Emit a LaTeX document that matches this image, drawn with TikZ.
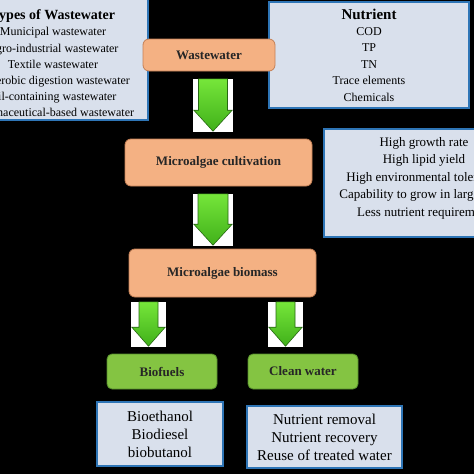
\documentclass[tikz,border=0pt]{standalone}
\usepackage{fontspec}
\setmainfont{Liberation Serif}
\usetikzlibrary{calc}
\definecolor{orangefill}{RGB}{244,177,131}
\definecolor{orangeline}{RGB}{196,128,86}
\definecolor{infofill}{RGB}{217,224,236}
\definecolor{infoline}{RGB}{46,117,182}
\definecolor{greenfill}{RGB}{132,196,66}
\definecolor{greenline}{RGB}{84,140,44}
\definecolor{arrowtop}{RGB}{118,230,58}
\definecolor{arrowbot}{RGB}{64,176,26}
\definecolor{arrowedge}{RGB}{38,104,18}
\newcommand{\Size}[2]{\fontsize{#1}{#2}\selectfont}
% green block arrow inside a white node: node, shaft half width, head length
\newcommand{\GreenArrow}[3]{%
  \draw[draw=arrowedge, line width=0.6pt, top color=arrowtop, bottom color=arrowbot]
    ($(#1.north)+(-#2,0)$) -- ($(#1.south)+(-#2,-#3)$) -- ($(#1.south west)+(1,-#3)$)
    -- ($(#1.south)+(0,-1)$) -- ($(#1.south east)+(-1,-#3)$) -- ($(#1.south)+(#2,-#3)$)
    -- ($(#1.north)+(#2,0)$) -- cycle;
}
\tikzset{
    procbox/.style={draw=orangeline, fill=orangefill, line width=0.8pt, rounded corners=6pt,
      font=\bfseries\Size{13}{15}, text=black!85, inner sep=0pt},
    prodbox/.style={draw=greenline, fill=greenfill, line width=0.8pt, rounded corners=5pt,
      font=\bfseries\Size{13}{15}, text=black!85, inner sep=0pt,
      minimum width=110, minimum height=35},
    infobox/.style={draw=infoline, fill=infofill, line width=1.2pt, inner sep=0pt, align=center},
    arrowbg/.style={fill=white, inner sep=0pt},
}
\begin{document}
\begin{tikzpicture}[x=1pt, y=-1pt]
    \useasboundingbox (0,0) rectangle (474,474);
    \clip (0,0) rectangle (474,474);
    \fill[black] (0,0) rectangle (474,474);

    % side boxes
    \node[infobox, minimum width=192, minimum height=124] (types) at (52,58) {};
    \node[align=center, font=\Size{12}{16.2}] (typestext) at (53,63.5)
      {{\bfseries\Size{14}{16.2}Types of Wastewater}\\ Municipal wastewater\\
       Agro-industrial wastewater\\ Textile wastewater\\ Anaerobic digestion wastewater\\
       Oil-containing wastewater\\ Pharmaceutical-based wastewater};

    \node[infobox, minimum width=200, minimum height=106, font=\Size{12}{16.4}] (nutrient) at (369,55)
      {{\bfseries\Size{15}{16.4}Nutrient}\\ COD\\ TP\\ TN\\ Trace elements\\ Chemicals};

    \node[infobox, minimum width=200, minimum height=108] (traits) at (424,183) {};
    \node[align=center, font=\Size{13}{17.5}] (traitstext) at (424,178)
      {High growth rate\\ High lipid yield\\ High environmental tolerance\\
       Capability to grow in large scale\\ Less nutrient requirement};

    % main column
    \node[procbox, minimum width=132, minimum height=32] (waste) at (209,55) {Wastewater};
    \node[procbox, minimum width=187, minimum height=47] (cult) at (218.5,162.5) {Microalgae cultivation};
    \node[procbox, minimum width=187, minimum height=48] (biomass) at (222.5,273) {Microalgae biomass};

    \node[prodbox] (biofuels) at (162,371.5) {Biofuels};
    \node[prodbox] (clean) at (303,371.5) {Clean water};

    \node[infobox, minimum width=126, minimum height=64, font=\Size{15}{18}] (fuels) at (160,434)
      {Bioethanol\\ Biodiesel\\ biobutanol};
    \node[infobox, minimum width=155, minimum height=62, font=\Size{15}{18}] (reuse) at (324.5,437)
      {Nutrient removal\\ Nutrient recovery\\ Reuse of treated water};

    % arrows
    \node[arrowbg, minimum width=40, minimum height=53] (a1) at (213,105.5) {};
    \node[arrowbg, minimum width=40, minimum height=52] (a2) at (213,220) {};
    \node[arrowbg, minimum width=35, minimum height=45] (a3) at (148.5,324.5) {};
    \node[arrowbg, minimum width=35, minimum height=45] (a4) at (285.5,324.5) {};

    \GreenArrow{a1}{14.5}{22}
    \GreenArrow{a2}{15}{22}
    \GreenArrow{a3}{9.5}{20}
    \GreenArrow{a4}{9.5}{20}
\end{tikzpicture}
\end{document}
